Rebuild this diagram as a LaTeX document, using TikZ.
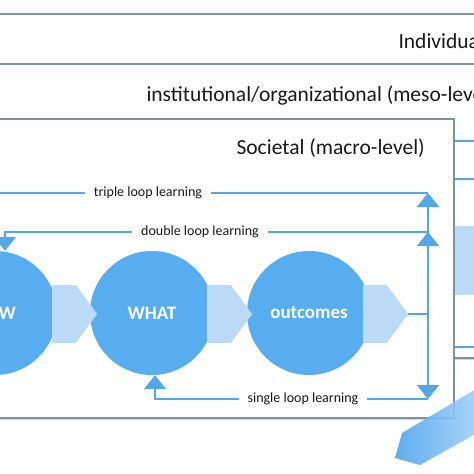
\documentclass[tikz,border=0pt]{standalone}
\usepackage{fontspec}
\setmainfont{Carlito}
\definecolor{loopblue}{RGB}{82,167,232}
\definecolor{circblue}{RGB}{88,173,240}
\definecolor{chevblue}{RGB}{186,218,248}
\definecolor{framegray}{RGB}{122,148,164}
\definecolor{textdark}{RGB}{25,25,25}
\definecolor{banddark}{RGB}{78,164,240}
\definecolor{bandlight}{RGB}{205,230,251}
\usetikzlibrary{shapes,arrows.meta,positioning,calc,shadows}

\begin{document}
\begin{tikzpicture}[x=1pt, y=-1pt,
    level/.style={draw=framegray, line width=1.3pt, fill=white, drop shadow={opacity=0.3, shadow xshift=1pt, shadow yshift=-1.5pt}},
    title/.style={anchor=west, text=textdark, font=\fontsize{21.5}{25}\selectfont},
    stage/.style={circle, fill=circblue, minimum size=124pt, inner sep=0pt, text=white, font=\fontsize{19}{22}\selectfont\bfseries},
    chev/.style={signal, signal to=east, anchor=west, fill=chevblue, minimum width=45pt, minimum height=58pt, inner sep=0pt, signal pointer angle=107},
    loop/.style={draw=loopblue, line width=1.8pt},
    tip/.style={-{Triangle[width=22pt, length=14pt]}},
    looplabel/.style={fill=white, inner xsep=9pt, text=textdark, font=\fontsize{14}{16}\selectfont}
]
    \useasboundingbox (0,0) rectangle (474,474);
    \fill[white] (0,0) rectangle (474,474);
    \clip (0,0) rectangle (474,474);

    % stacked levels
    \path[level] (-20,14) rectangle (520,308);
    \node[title] (indiv) at (395,42) {Individual (micro-level)};
    \path[level] (-20,64) rectangle (520,358);
    \node[title] (meso) at (143,95) {institutional/organizational (meso-level)};

    \draw[loop] (420,141) -- (490,141);
    \draw[loop] (420,179) -- (490,179);
    \fill[chevblue] (440,226) rectangle (490,295);
    \draw[loop] (420,347) -- (490,347);

    \path[level] (-20,119) rectangle (454,418);
    \node[title] (macro) at (233,148) {Societal (macro-level)};

    \node[stage] (how) at (-5,313) {HOW};
    \node[stage] (what) at (152,313) {WHAT};
    \node[stage] (outc) at (309,313) {outcomes};

    \node[chev] (c1) at (52,314) {};
    \node[chev] (c2) at (207,314) {};
    \node[chev] (c3) at (363,314) {};

    \coordinate (jn) at (428,314);
    \coordinate (tl) at (428,193);
    \coordinate (dl) at (428,232);
    \coordinate (sl) at (428,399);

    \draw[loop] (c3.east) -- (jn);
    \draw[loop, tip] (jn) -- (tl);
    \draw[loop, tip] (jn) -- (dl);
    \draw[loop, tip] (jn) -- (sl);
    \draw[loop] (tl) -- (-20,193);
    \draw[loop, tip] (dl) -| ([xshift=10pt]how.north);
    \draw[loop, tip] (sl) -| ([xshift=3pt]what.south);

    \node[looplabel] (tll) at (148,193) {triple loop learning};
    \node[looplabel] (dll) at (200,232) {double loop learning};
    \node[looplabel] (sll) at (303,399) {single loop learning};

    \shade[left color=banddark, right color=bandlight, opacity=0.9]
        (395,458) -- (402,433) -- (520,363) -- (520,409) -- (420,465) -- cycle;
\end{tikzpicture}
\end{document}
